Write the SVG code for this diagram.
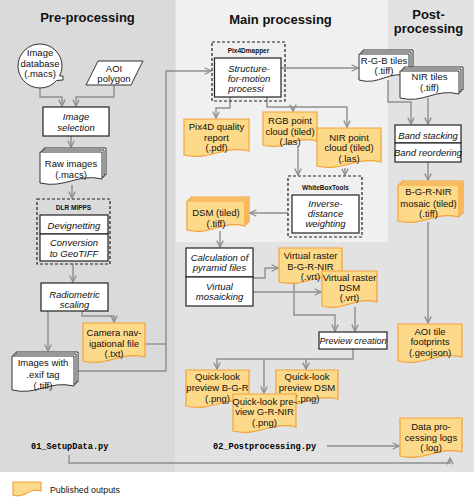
<svg xmlns="http://www.w3.org/2000/svg" xmlns:xlink="http://www.w3.org/1999/xlink" width="474" height="498" viewBox="0 0 474 498">
<style>
.t{font-family:"Liberation Sans",Arial,sans-serif;font-size:9.5px;text-anchor:middle;fill:#111}
.i{font-style:italic}
.h{font-size:13px;font-weight:bold}
.g{font-size:6.5px;font-weight:bold}
.m{font-family:"Liberation Mono","Courier New",monospace;font-size:8.6px;font-weight:bold;text-anchor:start}
.box{fill:#fff;stroke:#222;stroke-width:1.2}
.dash{fill:none;stroke:#222;stroke-width:1.2;stroke-dasharray:3 2}
.pub{fill:#fdd98a;stroke:#f4a23a;stroke-width:1.2}
.doc{fill:#fff;stroke:#333;stroke-width:1}
.c{fill:none;stroke:#8e8e8e;stroke-width:1.4}
.a{marker-end:url(#ah)}
</style>
<defs>
<marker id="ah" viewBox="0 0 10 10" refX="9" refY="5" markerWidth="8" markerHeight="8" markerUnits="userSpaceOnUse" orient="auto">
<path d="M1,1 L9,5 L1,9" fill="none" stroke="#8e8e8e" stroke-width="1.6"/>
</marker>
<path id="rawDoc" d="M40,152H102V179C77.2,173 64.8,189 40,183Z"/>
<path id="exifDoc" d="M12,356H74V386C49.2,380 36.8,396 12,390Z"/>
<path id="rgbDoc" d="M359,54H409V76C389,70 379,86 359,80Z"/>
<path id="nirDoc" d="M400,71H459V94C435.4,88 423.6,104 400,98Z"/>
<path id="dsmDoc" d="M187,201H245V226C221.8,220 210.2,236 187,230Z"/>
<path id="mosDoc" d="M398,185H459V217C434.6,211 422.4,227 398,221Z"/>
</defs>

<!-- backgrounds -->
<rect x="0" y="0" width="474" height="472" fill="#e2e2e2"/>
<rect x="0" y="0" width="175" height="472" fill="#dadada"/>
<rect x="176" y="0" width="212" height="242" fill="#f0f0f0"/>

<!-- titles -->
<text class="t h" x="87.5" y="22">Pre-processing</text>
<text class="t h" x="280.5" y="23.5">Main processing</text>
<text class="t h" x="428.5" y="19">Post-</text>
<text class="t h" x="428.5" y="33">processing</text>

<!-- connectors -->
<g id="connectors">
<path class="c a" d="M40,88V97H62V106"/>
<path class="c a" d="M114,85V97H76V106"/>
<path class="c a" d="M71,136V147"/>
<path class="c a" d="M72,185V198"/>
<path class="c a" d="M73,264V282"/>
<path class="c a" d="M48,311V351"/>
<path class="c a" d="M82,311V316H114V322"/>
<path class="c" d="M145,344H166"/>
<path class="c a" d="M78,371H166V71H211"/>
<path class="c a" d="M281,68H358"/>
<path class="c a" d="M230,97V108H216V118"/>
<path class="c a" d="M267,97V107H347V127"/>
<path class="c a" d="M293,107V111"/>
<path class="c a" d="M298,146V175"/>
<path class="c a" d="M345,168V175"/>
<path class="c a" d="M288,213H250"/>
<path class="c a" d="M220,231V247"/>
<path class="c a" d="M253,278H265V268H278"/>
<path class="c a" d="M253,292H321"/>
<path class="c a" d="M294,283V315H335V331"/>
<path class="c a" d="M355,307V331"/>
<path class="c a" d="M353,349V359H217V369"/>
<path class="c a" d="M264,359V393"/>
<path class="c a" d="M306,359V369"/>
<path class="c a" d="M388,80V102H411V124"/>
<path class="c a" d="M428,98V124"/>
<path class="c a" d="M428,162V180"/>
<path class="c a" d="M428,222V323"/>
<path class="c a" d="M327,446H399"/>
<path class="c a" d="M69,455V463H450V458"/>
</g>

<!-- pre-processing -->
<g id="image-database">
<path class="doc" d="M40,88A22,22 0 1 1 59.6,76L63,76L63,80L56.5,80.5A22,22 0 0 1 40,88Z"/>
<text class="t" x="40" y="55.5">Image</text>
<text class="t" x="40" y="66.5">database</text>
<text class="t" x="40" y="77">(.macs)</text>
</g>
<g id="aoi-polygon">
<polygon class="doc" points="98,61 143,61 131,85 86,85"/>
<text class="t" x="114" y="71.5">AOI</text>
<text class="t" x="114" y="82">polygon</text>
</g>
<g id="image-selection">
<rect class="box" x="43" y="107" width="66" height="29"/>
<text class="t i" x="76" y="120">Image</text>
<text class="t i" x="76" y="131">selection</text>
</g>
<g id="raw-images">
<use xlink:href="#rawDoc" class="doc" transform="translate(4,-4)"/>
<use xlink:href="#rawDoc" class="doc" transform="translate(2,-2)"/>
<use xlink:href="#rawDoc" class="doc"/>
<text class="t" x="71" y="166.5">Raw images</text>
<text class="t" x="71" y="177.5">(.macs)</text>
</g>
<g id="dlr-mipps">
<rect class="dash" x="37" y="199" width="73" height="65"/>
<text class="t g" x="73.5" y="209.5">DLR MIPPS</text>
<rect class="box" x="40" y="215" width="68" height="19"/>
<rect class="box" x="40" y="234" width="68" height="27"/>
<text class="t i" x="74" y="229">Devignetting</text>
<text class="t i" x="74" y="245.5">Conversion</text>
<text class="t i" x="74" y="256.5">to GeoTIFF</text>
</g>
<g id="radiometric-scaling">
<rect class="box" x="41" y="283" width="67" height="28"/>
<text class="t i" x="74.5" y="297.5">Radiometric</text>
<text class="t i" x="74.5" y="307.5">scaling</text>
</g>
<g id="camera-nav">
<path class="pub" d="M83,323H145V357C120.2,351 107.8,367 83,361Z"/>
<text class="t" x="114" y="336">Camera nav-</text>
<text class="t" x="114" y="346.5">igational file</text>
<text class="t" x="114" y="356.5">(.txt)</text>
</g>
<g id="images-exif">
<use xlink:href="#exifDoc" class="doc" transform="translate(4,-4)"/>
<use xlink:href="#exifDoc" class="doc" transform="translate(2,-2)"/>
<use xlink:href="#exifDoc" class="doc"/>
<text class="t" x="43" y="366">Images with</text>
<text class="t" x="43" y="377.5">.exif tag</text>
<text class="t" x="43" y="388.5">(.tiff)</text>
</g>
<g id="setupdata">
<text class="m" x="31" y="449">01_SetupData.py</text>
</g>

<!-- main processing -->
<g id="pix4dmapper">
<rect class="dash" x="212" y="42" width="73" height="59"/>
<text class="t g" x="248.5" y="52.5">Pix4Dmapper</text>
<rect class="box" x="214.5" y="58" width="66.5" height="39"/>
<text class="t i" x="249" y="71.5">Structure-</text>
<text class="t i" x="249" y="81.5">for-motion</text>
<text class="t i" x="246" y="91.5">processi</text>
</g>
<g id="pix4d-report">
<path class="pub" d="M184,119H249V151C223,145 210,161 184,155Z"/>
<text class="t" x="216.5" y="130">Pix4D quality</text>
<text class="t" x="216.5" y="140.5">report</text>
<text class="t" x="216.5" y="150.5">(.pdf)</text>
</g>
<g id="rgb-point-cloud">
<path class="pub" d="M263,112H317V141C295.4,135 284.6,151 263,145Z"/>
<text class="t" x="290" y="124">RGB point</text>
<text class="t" x="290" y="134.5">cloud (tiled)</text>
<text class="t" x="290" y="144.5">(.las)</text>
</g>
<g id="nir-point-cloud">
<path class="pub" d="M317,128H381V162C355.4,156 342.6,172 317,166Z"/>
<text class="t" x="349" y="140.5">NIR point</text>
<text class="t" x="349" y="151">cloud (tiled)</text>
<text class="t" x="349" y="161.5">(.las)</text>
</g>
<g id="whiteboxtools">
<rect class="dash" x="288" y="176" width="74" height="61"/>
<text class="t g" x="325.5" y="189.5">WhiteBoxTools</text>
<rect class="box" x="292" y="195" width="67" height="38"/>
<text class="t i" x="325.5" y="206.5">Inverse-</text>
<text class="t i" x="325.5" y="216.5">distance</text>
<text class="t i" x="325.5" y="226.5">weighting</text>
</g>
<g id="dsm-tiled">
<use xlink:href="#dsmDoc" class="pub" transform="translate(4,-4)"/>
<use xlink:href="#dsmDoc" class="pub" transform="translate(2,-2)"/>
<use xlink:href="#dsmDoc" class="pub"/>
<text class="t" x="216" y="216">DSM (tiled)</text>
<text class="t" x="216" y="227">(.tiff)</text>
</g>
<g id="pyramid-mosaicking">
<rect class="box" x="186" y="248" width="67" height="29"/>
<rect class="box" x="186" y="277" width="67" height="29"/>
<text class="t i" x="219.5" y="260.5">Calculation of</text>
<text class="t i" x="219.5" y="270.5">pyramid files</text>
<text class="t i" x="219.5" y="289.5">Virtual</text>
<text class="t i" x="219.5" y="299.5">mosaicking</text>
</g>
<g id="vrt-bgrnir">
<path class="pub" d="M279,248H342V278C316.8,272 304.2,288 279,282Z"/>
<text class="t" x="310.5" y="258.5">Virtual raster</text>
<text class="t" x="310.5" y="269.5">B-G-R-NIR</text>
<text class="t" x="310.5" y="280">(.vrt)</text>
</g>
<g id="vrt-dsm">
<path class="pub" d="M322,271H377V302C355,296 344,312 322,306Z"/>
<text class="t" x="349.5" y="280.5">Virtual raster</text>
<text class="t" x="349.5" y="290.5">DSM</text>
<text class="t" x="349.5" y="300.5">(.vrt)</text>
</g>
<g id="preview-creation">
<rect class="box" x="319" y="332" width="68" height="17"/>
<text class="t i" x="353" y="344" style="font-size:9.1px">Preview creation</text>
</g>
<g id="ql-bgr">
<path class="pub" d="M186,370H249V402C223.8,396 211.2,412 186,406Z"/>
<text class="t" x="217.5" y="380">Quick-look</text>
<text class="t" x="217.5" y="390.5">preview B-G-R</text>
<text class="t" x="217.5" y="401.5">(.png)</text>
</g>
<g id="ql-dsm">
<path class="pub" d="M276,370H338V399C313.2,393 300.8,409 276,403Z"/>
<text class="t" x="307" y="380">Quick-look</text>
<text class="t" x="307" y="390.5">preview DSM</text>
<text class="t" x="307" y="401.5">(.png)</text>
</g>
<g id="ql-grnir">
<path class="pub" d="M233,394H296V427C270.8,421 258.2,437 233,431Z"/>
<text class="t" x="264.5" y="404.5">Quick-look pre-</text>
<text class="t" x="264.5" y="414.5">view G-R-NIR</text>
<text class="t" x="264.5" y="425.5">(.png)</text>
</g>
<g id="postprocessing-script">
<text class="m" x="213" y="449">02_Postprocessing.py</text>
</g>

<!-- post-processing -->
<g id="rgb-tiles">
<use xlink:href="#rgbDoc" class="doc" transform="translate(4,-4)"/>
<use xlink:href="#rgbDoc" class="doc" transform="translate(2,-2)"/>
<use xlink:href="#rgbDoc" class="doc"/>
<text class="t" x="384" y="63.5">R-G-B tiles</text>
<text class="t" x="384" y="73.5">(.tiff)</text>
</g>
<g id="nir-tiles">
<use xlink:href="#nirDoc" class="doc" transform="translate(4,-4)"/>
<use xlink:href="#nirDoc" class="doc" transform="translate(2,-2)"/>
<use xlink:href="#nirDoc" class="doc"/>
<text class="t" x="429.5" y="80">NIR tiles</text>
<text class="t" x="429.5" y="90.5">(.tiff)</text>
</g>
<g id="band-stacking">
<rect class="box" x="395" y="125" width="66" height="18"/>
<rect class="box" x="395" y="143" width="66" height="19"/>
<text class="t i" x="428" y="138.5">Band stacking</text>
<text class="t i" x="428" y="156">Band reordering</text>
</g>
<g id="bgrnir-mosaic">
<use xlink:href="#mosDoc" class="pub" transform="translate(4,-4)"/>
<use xlink:href="#mosDoc" class="pub" transform="translate(2,-2)"/>
<use xlink:href="#mosDoc" class="pub"/>
<text class="t" x="428.5" y="195">B-G-R-NIR</text>
<text class="t" x="428.5" y="206.5">mosaic (tiled)</text>
<text class="t" x="428.5" y="216.5">(.tiff)</text>
</g>
<g id="aoi-footprints">
<path class="pub" d="M398,324H462V357C436.4,351 423.6,367 398,361Z"/>
<text class="t" x="430" y="334.5">AOI tile</text>
<text class="t" x="430" y="344.5">footprints</text>
<text class="t" x="430" y="356">(.geojson)</text>
</g>
<g id="data-logs">
<path class="pub" d="M400,418H462V452C437.2,446 424.8,462 400,456Z"/>
<text class="t" x="431" y="430">Data pro-</text>
<text class="t" x="431" y="440.5">cessing logs</text>
<text class="t" x="431" y="451">(.log)</text>
</g>

<!-- legend -->
<g id="legend">
<path class="pub" d="M13,482H41V491C29.8,487 24.2,499 13,495Z"/>
<text class="t" x="50" y="493" style="text-anchor:start;font-size:8.8px">Published outputs</text>
</g>
</svg>
